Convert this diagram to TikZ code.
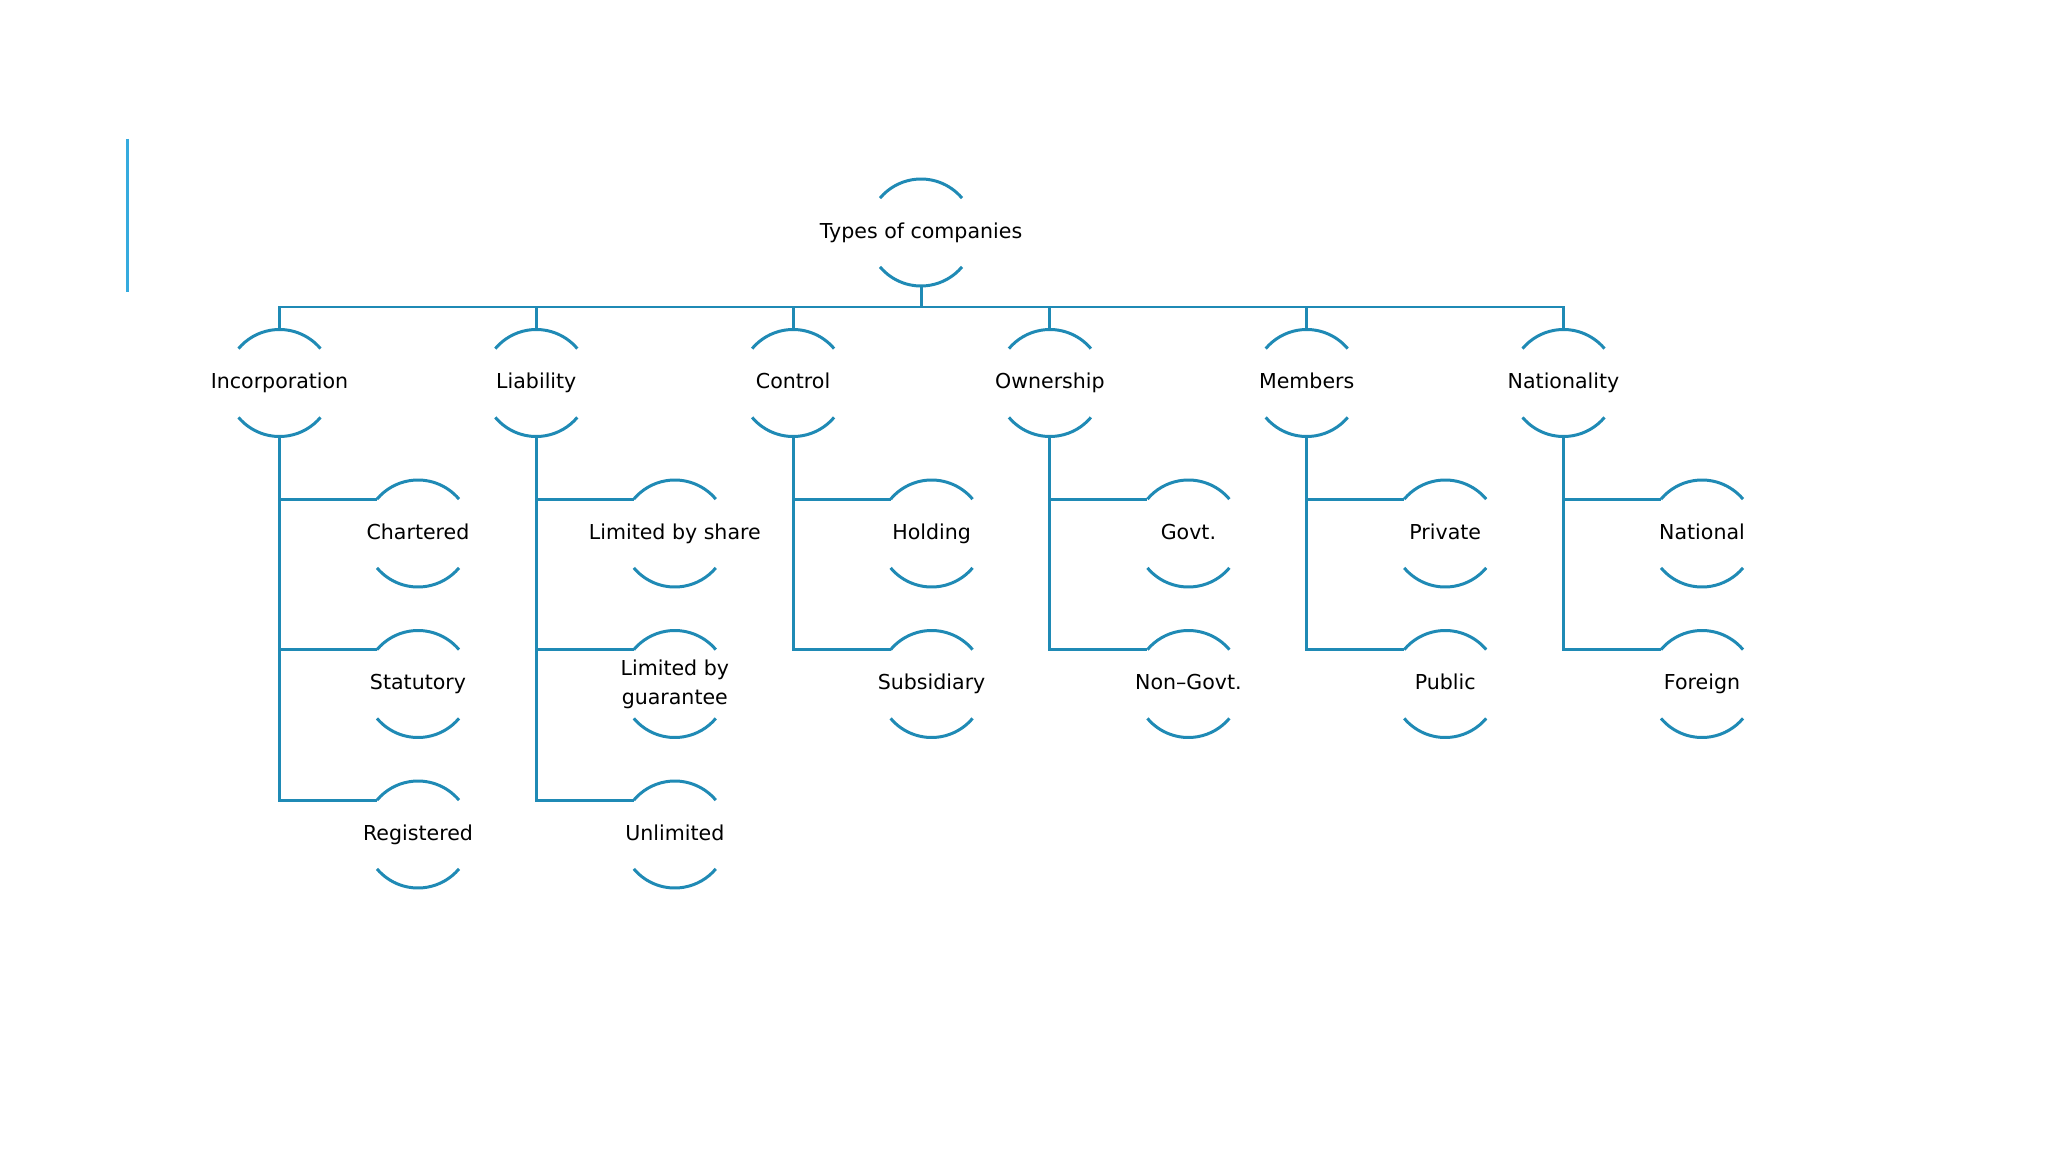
\documentclass[tikz,border=0pt]{standalone}
\usepackage{fontspec}
\setmainfont{DejaVu Sans}
\usetikzlibrary{calc}
\definecolor{lineblue}{HTML}{1F8AB5}
\definecolor{barblue}{HTML}{35ABDE}
\newcommand\arcrad{53.5}
\tikzset{cat/.style={font=\fontsize{11.7}{16.5}\selectfont,text=black,align=center,inner sep=0pt,text height=0.82em,text depth=0.18em},
  link/.style={draw=lineblue,line width=1.7pt},
  rim/.style={link,line cap=butt}}

\begin{document}
\begin{tikzpicture}[x=0.02cm,y=0.02cm]
\fill[white] (0,0) rectangle (2048,-1152);
\useasboundingbox (0,0) rectangle (2048,-1152);
\draw[barblue,line width=1.7pt] (127.7,-139) -- (127.7,-292);
% root and first level
\node[cat] (root) at (921,-232.5) {Types of companies};
\node[cat] (inc) at (279.5,-383) {Incorporation};
\node[cat] (lia) at (536.3,-383) {Liability};
\node[cat] (con) at (793.1,-383) {Control};
\node[cat] (own) at (1049.9,-383) {Ownership};
\node[cat] (mem) at (1306.7,-383) {Members};
\node[cat] (nat) at (1563.5,-383) {Nationality};
% second level
\node[cat] (chr) at (418,-533.5) {Chartered};
\node[cat] (sta) at (418,-684) {Statutory};
\node[cat] (reg) at (418,-834.5) {Registered};
\node[cat] (shr) at (674.8,-533.5) {Limited by share};
\node[cat,text height={},text depth={}] (gua) at (674.8,-684) {Limited by\\guarantee};
\node[cat] (unl) at (674.8,-834.5) {Unlimited};
\node[cat] (hol) at (931.6,-533.5) {Holding};
\node[cat] (sub) at (931.6,-684) {Subsidiary};
\node[cat] (gov) at (1188.4,-533.5) {Govt.};
\node[cat] (ngv) at (1188.4,-684) {Non--Govt.};
\node[cat] (pri) at (1445.2,-533.5) {Private};
\node[cat] (pub) at (1445.2,-684) {Public};
\node[cat] (ntl) at (1702,-533.5) {National};
\node[cat] (frn) at (1702,-684) {Foreign};
% arcs round every label
\foreach \n in {root,inc,lia,con,own,mem,nat,chr,sta,reg,shr,gua,unl,hol,sub,gov,ngv,pri,pub,ntl,frn}{
  \draw[rim] ($(\n.center)+(40:\arcrad)$) arc[start angle=40,end angle=140,radius=\arcrad];
  \draw[rim] ($(\n.center)+(220:\arcrad)$) arc[start angle=220,end angle=320,radius=\arcrad];
}
% connectors
\draw[link] ($(root.center)+(0,-\arcrad)$) -- ($(root.center)+(0,-\arcrad-21)$);
\draw[link] ($(inc.center)+(0,\arcrad)$) -- ++(0,22.5) -| ($(nat.center)+(0,\arcrad)$);
\foreach \n in {lia,con,own,mem}
  \draw[link] ($(\n.center)+(0,\arcrad)$) -- ++(0,22.5);
\foreach \p/\c in {inc/chr,inc/sta,inc/reg,lia/shr,lia/gua,lia/unl,con/hol,con/sub,own/gov,own/ngv,mem/pri,mem/pub,nat/ntl,nat/frn}
  \draw[link] ($(\p.center)+(0,-\arcrad)$) |- ($(\c.center)+(140:\arcrad)$);
\end{tikzpicture}
\end{document}
